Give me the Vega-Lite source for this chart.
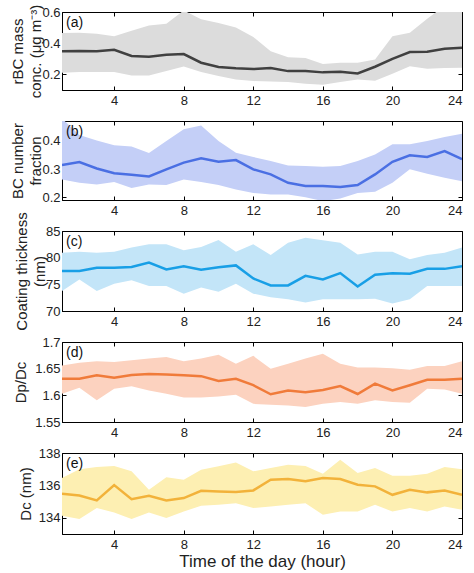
{
  "$schema": "https://vega.github.io/schema/vega-lite/v6.json",
  "padding": {"left": 10, "top": 3, "right": 0, "bottom": 0},
  "bounds": "flush",
  "spacing": 31,
  "datasets": {
    "a": [
      {"hour":1,"mean":0.348,"lo":0.211,"hi":0.465},{"hour":2,"mean":0.350,"lo":0.215,"hi":0.467},{"hour":3,"mean":0.348,"lo":0.215,"hi":0.460},{"hour":4,"mean":0.358,"lo":0.215,"hi":0.444},{"hour":5,"mean":0.318,"lo":0.193,"hi":0.480},{"hour":6,"mean":0.313,"lo":0.193,"hi":0.514},{"hour":7,"mean":0.326,"lo":0.221,"hi":0.525},{"hour":8,"mean":0.330,"lo":0.251,"hi":0.610},{"hour":9,"mean":0.275,"lo":0.215,"hi":0.553},{"hour":10,"mean":0.247,"lo":0.190,"hi":0.530},{"hour":11,"mean":0.239,"lo":0.168,"hi":0.500},{"hour":12,"mean":0.234,"lo":0.157,"hi":0.440},{"hour":13,"mean":0.241,"lo":0.155,"hi":0.348},{"hour":14,"mean":0.221,"lo":0.151,"hi":0.310},{"hour":15,"mean":0.221,"lo":0.140,"hi":0.305},{"hour":16,"mean":0.213,"lo":0.134,"hi":0.266},{"hour":17,"mean":0.217,"lo":0.151,"hi":0.275},{"hour":18,"mean":0.206,"lo":0.168,"hi":0.275},{"hour":19,"mean":0.249,"lo":0.159,"hi":0.296},{"hour":20,"mean":0.300,"lo":0.204,"hi":0.444},{"hour":21,"mean":0.343,"lo":0.253,"hi":0.467},{"hour":22,"mean":0.345,"lo":0.236,"hi":0.557},{"hour":23,"mean":0.365,"lo":0.241,"hi":0.640},{"hour":24,"mean":0.371,"lo":0.243,"hi":0.640}
    ],
    "b": [
      {"hour":1,"mean":0.314,"lo":0.263,"hi":0.480},{"hour":2,"mean":0.325,"lo":0.251,"hi":0.421},{"hour":3,"mean":0.302,"lo":0.245,"hi":0.402},{"hour":4,"mean":0.285,"lo":0.254,"hi":0.385},{"hour":5,"mean":0.280,"lo":0.233,"hi":0.380},{"hour":6,"mean":0.274,"lo":0.245,"hi":0.357},{"hour":7,"mean":0.299,"lo":0.243,"hi":0.400},{"hour":8,"mean":0.323,"lo":0.263,"hi":0.442},{"hour":9,"mean":0.338,"lo":0.254,"hi":0.455},{"hour":10,"mean":0.326,"lo":0.243,"hi":0.400},{"hour":11,"mean":0.332,"lo":0.227,"hi":0.358},{"hour":12,"mean":0.299,"lo":0.215,"hi":0.343},{"hour":13,"mean":0.281,"lo":0.210,"hi":0.329},{"hour":14,"mean":0.251,"lo":0.210,"hi":0.313},{"hour":15,"mean":0.240,"lo":0.200,"hi":0.311},{"hour":16,"mean":0.240,"lo":0.186,"hi":0.308},{"hour":17,"mean":0.236,"lo":0.195,"hi":0.311},{"hour":18,"mean":0.243,"lo":0.215,"hi":0.329},{"hour":19,"mean":0.281,"lo":0.219,"hi":0.352},{"hour":20,"mean":0.326,"lo":0.251,"hi":0.388},{"hour":21,"mean":0.349,"lo":0.299,"hi":0.388},{"hour":22,"mean":0.343,"lo":0.283,"hi":0.400},{"hour":23,"mean":0.364,"lo":0.269,"hi":0.414},{"hour":24,"mean":0.335,"lo":0.257,"hi":0.426}
    ],
    "c": [
      {"hour":1,"mean":77.5,"lo":73.75,"hi":80.9},{"hour":2,"mean":77.5,"lo":75.9,"hi":81.1},{"hour":3,"mean":78.1,"lo":73.75,"hi":80.9},{"hour":4,"mean":78.1,"lo":75.1,"hi":81.1},{"hour":5,"mean":78.25,"lo":75.75,"hi":81.9},{"hour":6,"mean":79.1,"lo":74.7,"hi":82.5},{"hour":7,"mean":77.8,"lo":74.7,"hi":82.5},{"hour":8,"mean":78.4,"lo":73.25,"hi":81.4},{"hour":9,"mean":77.75,"lo":74.4,"hi":82.0},{"hour":10,"mean":78.2,"lo":73.6,"hi":83.3},{"hour":11,"mean":78.55,"lo":75.1,"hi":81.1},{"hour":12,"mean":76.1,"lo":73.25,"hi":82.5},{"hour":13,"mean":74.8,"lo":72.6,"hi":80.5},{"hour":14,"mean":74.8,"lo":72.2,"hi":82.8},{"hour":15,"mean":76.6,"lo":71.6,"hi":83.75},{"hour":16,"mean":75.9,"lo":72.2,"hi":83.25},{"hour":17,"mean":77.1,"lo":72.2,"hi":82.8},{"hour":18,"mean":74.6,"lo":72.2,"hi":80.6},{"hour":19,"mean":76.8,"lo":72.3,"hi":81.1},{"hour":20,"mean":77.1,"lo":71.4,"hi":81.1},{"hour":21,"mean":77.0,"lo":72.2,"hi":79.7},{"hour":22,"mean":77.9,"lo":74.7,"hi":80.5},{"hour":23,"mean":77.9,"lo":74.7,"hi":80.9},{"hour":24,"mean":78.4,"lo":74.7,"hi":81.9}
    ],
    "d": [
      {"hour":1,"mean":1.631,"lo":1.603,"hi":1.656},{"hour":2,"mean":1.631,"lo":1.614,"hi":1.661},{"hour":3,"mean":1.6375,"lo":1.591,"hi":1.664},{"hour":4,"mean":1.633,"lo":1.6125,"hi":1.6625},{"hour":5,"mean":1.638,"lo":1.617,"hi":1.666},{"hour":6,"mean":1.640,"lo":1.609,"hi":1.669},{"hour":7,"mean":1.639,"lo":1.603,"hi":1.672},{"hour":8,"mean":1.6375,"lo":1.596,"hi":1.664},{"hour":9,"mean":1.636,"lo":1.596,"hi":1.669},{"hour":10,"mean":1.627,"lo":1.598,"hi":1.676},{"hour":11,"mean":1.631,"lo":1.601,"hi":1.659},{"hour":12,"mean":1.619,"lo":1.584,"hi":1.674},{"hour":13,"mean":1.602,"lo":1.5825,"hi":1.650},{"hour":14,"mean":1.609,"lo":1.581,"hi":1.659},{"hour":15,"mean":1.606,"lo":1.578,"hi":1.669},{"hour":16,"mean":1.610,"lo":1.584,"hi":1.678},{"hour":17,"mean":1.6175,"lo":1.5875,"hi":1.659},{"hour":18,"mean":1.6025,"lo":1.584,"hi":1.652},{"hour":19,"mean":1.622,"lo":1.591,"hi":1.652},{"hour":20,"mean":1.609,"lo":1.5875,"hi":1.651},{"hour":21,"mean":1.619,"lo":1.586,"hi":1.648},{"hour":22,"mean":1.629,"lo":1.6125,"hi":1.655},{"hour":23,"mean":1.629,"lo":1.611,"hi":1.655},{"hour":24,"mean":1.631,"lo":1.603,"hi":1.664}
    ],
    "e": [
      {"hour":1,"mean":135.48,"lo":134.12,"hi":136.45},{"hour":2,"mean":135.38,"lo":133.92,"hi":137.0},{"hour":3,"mean":135.07,"lo":134.6,"hi":137.13},{"hour":4,"mean":136.02,"lo":134.33,"hi":137.2},{"hour":5,"mean":135.15,"lo":133.92,"hi":136.87},{"hour":6,"mean":135.36,"lo":134.33,"hi":135.73},{"hour":7,"mean":135.07,"lo":133.98,"hi":136.5},{"hour":8,"mean":135.22,"lo":134.39,"hi":136.35},{"hour":9,"mean":135.67,"lo":134.74,"hi":136.97},{"hour":10,"mean":135.63,"lo":134.8,"hi":137.18},{"hour":11,"mean":135.59,"lo":134.9,"hi":137.42},{"hour":12,"mean":135.69,"lo":134.6,"hi":136.87},{"hour":13,"mean":136.35,"lo":134.7,"hi":137.07},{"hour":14,"mean":136.39,"lo":134.8,"hi":137.28},{"hour":15,"mean":136.25,"lo":134.9,"hi":137.2},{"hour":16,"mean":136.45,"lo":134.19,"hi":136.72},{"hour":17,"mean":136.39,"lo":134.39,"hi":137.59},{"hour":18,"mean":136.04,"lo":134.39,"hi":136.76},{"hour":19,"mean":135.94,"lo":134.8,"hi":137.07},{"hour":20,"mean":135.42,"lo":134.39,"hi":136.6},{"hour":21,"mean":135.73,"lo":134.6,"hi":136.6},{"hour":22,"mean":135.57,"lo":134.39,"hi":136.72},{"hour":23,"mean":135.69,"lo":134.7,"hi":137.13},{"hour":24,"mean":135.42,"lo":134.5,"hi":137.0}
    ]
  },
  "vconcat": [
    {
      "width": 400, "height": 78,
      "data": {"name": "a"},
      "layer": [
        {"mark": {"type": "area", "color": "#dcdcdc", "opacity": 1, "clip": true},
         "encoding": {
           "x": {"field": "hour", "type": "quantitative", "scale": {"domain": [1, 24], "nice": false}, "axis": {"values": [4, 8, 12, 16, 20, 24], "title": null}},
           "y": {"field": "lo", "type": "quantitative", "scale": {"domain": [0.1, 0.6], "nice": false, "zero": false}, "axis": {"values": [0.2, 0.4, 0.6], "title": ["rBC mass", "conc. (μg m⁻³)"], "titlePadding": -2}},
           "y2": {"field": "hi"}}},
        {"mark": {"type": "line", "color": "#404040", "strokeWidth": 2.5, "clip": true},
         "encoding": {"x": {"field": "hour", "type": "quantitative", "axis": null}, "y": {"field": "mean", "type": "quantitative", "axis": null}}},
        {"data": {"values": [{"lab": "(a)"}]},
         "mark": {"type": "text", "align": "left", "baseline": "top", "dx": 4, "dy": 4, "fontSize": 14, "color": "#111"},
         "encoding": {"text": {"field": "lab"}, "x": {"datum": 1, "type": "quantitative", "axis": {"orient": "top", "values": [4, 8, 12, 16, 20, 24], "labels": false, "title": null, "domain": false}}, "y": {"datum": 0.6, "type": "quantitative", "axis": {"orient": "right", "values": [0.2, 0.4, 0.6], "labels": false, "title": null, "domain": false}}}}
      ],
      "resolve": {"axis": {"x": "independent", "y": "independent"}}
    },
    {
      "width": 400, "height": 79,
      "data": {"name": "b"},
      "layer": [
        {"mark": {"type": "area", "color": "#c4cff7", "opacity": 1, "clip": true},
         "encoding": {
           "x": {"field": "hour", "type": "quantitative", "scale": {"domain": [1, 24], "nice": false}, "axis": {"values": [4, 8, 12, 16, 20, 24], "title": null}},
           "y": {"field": "lo", "type": "quantitative", "scale": {"domain": [0.19, 0.471], "nice": false, "zero": false}, "axis": {"values": [0.2, 0.3, 0.4], "title": ["BC number", "fraction"], "titlePadding": -2}},
           "y2": {"field": "hi"}}},
        {"mark": {"type": "line", "color": "#4a6fe3", "strokeWidth": 2.5, "clip": true},
         "encoding": {"x": {"field": "hour", "type": "quantitative", "axis": null}, "y": {"field": "mean", "type": "quantitative", "axis": null}}},
        {"data": {"values": [{"lab": "(b)"}]},
         "mark": {"type": "text", "align": "left", "baseline": "top", "dx": 4, "dy": 4, "fontSize": 14, "color": "#111"},
         "encoding": {"text": {"field": "lab"}, "x": {"datum": 1, "type": "quantitative", "axis": {"orient": "top", "values": [4, 8, 12, 16, 20, 24], "labels": false, "title": null, "domain": false}}, "y": {"datum": 0.471, "type": "quantitative", "axis": {"orient": "right", "values": [0.2, 0.3, 0.4], "labels": false, "title": null, "domain": false}}}}
      ],
      "resolve": {"axis": {"x": "independent", "y": "independent"}}
    },
    {
      "width": 400, "height": 80,
      "data": {"name": "c"},
      "layer": [
        {"mark": {"type": "area", "color": "#c3e5f8", "opacity": 1, "clip": true},
         "encoding": {
           "x": {"field": "hour", "type": "quantitative", "scale": {"domain": [1, 24], "nice": false}, "axis": {"values": [4, 8, 12, 16, 20, 24], "title": null}},
           "y": {"field": "lo", "type": "quantitative", "scale": {"domain": [70, 85], "nice": false, "zero": false}, "axis": {"values": [70, 75, 80, 85], "title": ["Coating thickness", "(nm)"], "titlePadding": -2}},
           "y2": {"field": "hi"}}},
        {"mark": {"type": "line", "color": "#189fe6", "strokeWidth": 2.5, "clip": true},
         "encoding": {"x": {"field": "hour", "type": "quantitative", "axis": null}, "y": {"field": "mean", "type": "quantitative", "axis": null}}},
        {"data": {"values": [{"lab": "(c)"}]},
         "mark": {"type": "text", "align": "left", "baseline": "top", "dx": 4, "dy": 4, "fontSize": 14, "color": "#111"},
         "encoding": {"text": {"field": "lab"}, "x": {"datum": 1, "type": "quantitative", "axis": {"orient": "top", "values": [4, 8, 12, 16, 20, 24], "labels": false, "title": null, "domain": false}}, "y": {"datum": 85, "type": "quantitative", "axis": {"orient": "right", "values": [70, 75, 80, 85], "labels": false, "title": null, "domain": false}}}}
      ],
      "resolve": {"axis": {"x": "independent", "y": "independent"}}
    },
    {
      "width": 400, "height": 80,
      "data": {"name": "d"},
      "layer": [
        {"mark": {"type": "area", "color": "#fcd2bf", "opacity": 1, "clip": true},
         "encoding": {
           "x": {"field": "hour", "type": "quantitative", "scale": {"domain": [1, 24], "nice": false}, "axis": {"values": [4, 8, 12, 16, 20, 24], "title": null}},
           "y": {"field": "lo", "type": "quantitative", "scale": {"domain": [1.55, 1.7], "nice": false, "zero": false}, "axis": {"values": [1.55, 1.6, 1.65, 1.7], "title": "Dp/Dc", "titlePadding": 6}},
           "y2": {"field": "hi"}}},
        {"mark": {"type": "line", "color": "#f07b3a", "strokeWidth": 2.5, "clip": true},
         "encoding": {"x": {"field": "hour", "type": "quantitative", "axis": null}, "y": {"field": "mean", "type": "quantitative", "axis": null}}},
        {"data": {"values": [{"lab": "(d)"}]},
         "mark": {"type": "text", "align": "left", "baseline": "top", "dx": 4, "dy": 4, "fontSize": 14, "color": "#111"},
         "encoding": {"text": {"field": "lab"}, "x": {"datum": 1, "type": "quantitative", "axis": {"orient": "top", "values": [4, 8, 12, 16, 20, 24], "labels": false, "title": null, "domain": false}}, "y": {"datum": 1.7, "type": "quantitative", "axis": {"orient": "right", "values": [1.55, 1.6, 1.65, 1.7], "labels": false, "title": null, "domain": false}}}}
      ],
      "resolve": {"axis": {"x": "independent", "y": "independent"}}
    },
    {
      "width": 400, "height": 81,
      "data": {"name": "e"},
      "layer": [
        {"mark": {"type": "area", "color": "#fdefb2", "opacity": 1, "clip": true},
         "encoding": {
           "x": {"field": "hour", "type": "quantitative", "scale": {"domain": [1, 24], "nice": false}, "axis": {"values": [4, 8, 12, 16, 20, 24], "title": "Time of the day (hour)", "titleFontSize": 17, "titlePadding": 2}},
           "y": {"field": "lo", "type": "quantitative", "scale": {"domain": [133, 138], "nice": false, "zero": false}, "axis": {"values": [134, 136, 138], "title": "Dc (nm)", "titlePadding": 5}},
           "y2": {"field": "hi"}}},
        {"mark": {"type": "line", "color": "#f2b23a", "strokeWidth": 2.5, "clip": true},
         "encoding": {"x": {"field": "hour", "type": "quantitative", "axis": null}, "y": {"field": "mean", "type": "quantitative", "axis": null}}},
        {"data": {"values": [{"lab": "(e)"}]},
         "mark": {"type": "text", "align": "left", "baseline": "top", "dx": 4, "dy": 4, "fontSize": 14, "color": "#111"},
         "encoding": {"text": {"field": "lab"}, "x": {"datum": 1, "type": "quantitative", "axis": {"orient": "top", "values": [4, 8, 12, 16, 20, 24], "labels": false, "title": null, "domain": false}}, "y": {"datum": 138, "type": "quantitative", "axis": {"orient": "right", "values": [134, 136, 138], "labels": false, "title": null, "domain": false}}}}
      ],
      "resolve": {"axis": {"x": "independent", "y": "independent"}}
    }
  ],
  "config": {
    "font": "Liberation Sans",
    "view": {"stroke": "#000", "strokeWidth": 1},
    "axis": {
      "grid": false,
      "labelFont": "Liberation Sans", "titleFont": "Liberation Sans",
      "labelFontSize": 13, "titleFontSize": 15, "titleFontWeight": "normal",
      "labelColor": "#222", "titleColor": "#222",
      "domainColor": "#000", "tickColor": "#000",
      "tickSize": -4, "labelPadding": 6, "format": ".2~f",
      "titleLineHeight": 18
    },
    "axisX": {"labelPadding": 8},
    "axisY": {"titlePadding": 2}
  }
}
